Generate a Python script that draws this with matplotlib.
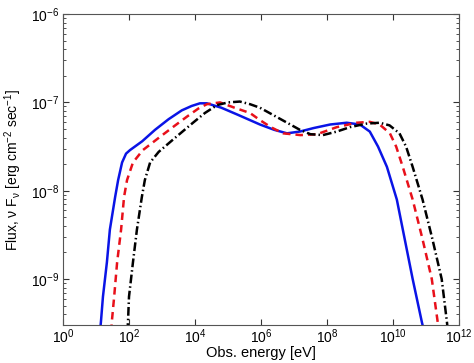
import numpy as np
import matplotlib
matplotlib.use('Agg')
import matplotlib.pyplot as plt
from matplotlib.ticker import LogLocator, NullLocator, LogFormatterSciNotation

plt.rcParams['font.family'] = ['Liberation Sans', 'DejaVu Sans']
plt.rcParams['mathtext.fontset'] = 'custom'
plt.rcParams['mathtext.rm'] = 'Liberation Sans'
plt.rcParams['mathtext.it'] = 'Liberation Sans'

# log10 of energy [eV] and log10 of flux
blue_logE = [1.12, 1.15, 1.21, 1.33, 1.42, 1.58, 1.67, 1.79, 1.91, 2.03, 2.4, 2.79, 3.2, 3.6, 3.9,
             4.15, 4.36, 4.8, 5.3, 5.97, 6.4, 6.79, 7.18, 7.6, 8.1, 8.6, 9.0, 9.3, 9.55, 9.82,
             10.12, 10.36, 10.6, 10.88, 10.95]
blue_logF = [-9.6, -9.48, -9.2, -8.81, -8.44, -8.07, -7.88, -7.68, -7.58, -7.54, -7.44, -7.31, -7.19, -7.09, -7.04,
             -7.01, -7.01, -7.06, -7.14, -7.25, -7.31, -7.35, -7.33, -7.29, -7.25, -7.23, -7.25, -7.33, -7.50, -7.73,
             -8.10, -8.55, -9.0, -9.49, -9.6]

red_logE = [1.46, 1.48, 1.55, 1.64, 1.76, 1.85, 1.94, 2.12, 2.42, 2.94, 3.4, 3.76, 4.1, 4.36, 4.76,
            5.2, 5.67, 5.97, 6.3, 6.67, 7.2, 7.7, 8.3, 8.9, 9.3, 9.6, 9.91, 10.1, 10.3, 10.6,
            10.9, 11.18, 11.36, 11.4]
red_logF = [-9.6, -9.48, -9.2, -8.81, -8.44, -8.07, -7.88, -7.68, -7.54, -7.39, -7.26, -7.16, -7.07, -7.02, -7.00,
            -7.06, -7.12, -7.20, -7.28, -7.35, -7.37, -7.36, -7.28, -7.23, -7.22, -7.25, -7.35, -7.50, -7.73, -8.10,
            -8.55, -9.0, -9.49, -9.6]

black_logE = [1.95, 1.97, 2.0, 2.12, 2.24, 2.39, 2.48, 2.64, 2.9, 3.4, 3.94, 4.3, 4.67, 5.0, 5.36,
              5.67, 5.97, 6.6, 7.18, 7.5, 7.88, 8.3, 8.7, 9.2, 9.6, 9.9, 10.2, 10.4, 10.6, 10.9,
              11.2, 11.48, 11.64, 11.67]
black_logF = [-9.6, -9.48, -9.2, -8.81, -8.44, -8.07, -7.88, -7.68, -7.56, -7.40, -7.23, -7.12, -7.03, -7.0, -6.99,
              -7.02, -7.06, -7.19, -7.31, -7.36, -7.37, -7.33, -7.28, -7.24, -7.23, -7.26, -7.35, -7.50, -7.73, -8.10,
              -8.55, -9.0, -9.49, -9.6]

xtick_exps = [0, 2, 4, 6, 8, 10, 12]
ytick_exps = [-9, -8, -7, -6]

fig = plt.figure(figsize=(4.74, 3.63), dpi=100)
ax = fig.add_axes([0.133, 0.105, 0.835, 0.856])

ax.plot(10.0 ** np.array(blue_logE), 10.0 ** np.array(blue_logF), color='#0a14e6', lw=1.8, ls='-')
ax.plot(10.0 ** np.array(red_logE), 10.0 ** np.array(red_logF), color='#e8101a', lw=1.8, ls=(0, (3, 2)))
ax.plot(10.0 ** np.array(black_logE), 10.0 ** np.array(black_logF), color='black', lw=1.8,
        ls=(0, (3.5, 1.2, 0.6, 1.2)))

ax.set_xscale('log')
ax.set_yscale('log')
ax.set_xlim(1, 1e12)
ax.set_ylim(10 ** -9.52, 1e-6)

ax.set_xticks([10.0 ** e for e in xtick_exps])
ax.xaxis.set_minor_locator(NullLocator())
ax.set_yticks([10.0 ** e for e in ytick_exps])
ax.yaxis.set_minor_locator(LogLocator(base=10, subs=np.arange(2, 10)))
ax.xaxis.set_major_formatter(LogFormatterSciNotation())
ax.yaxis.set_major_formatter(LogFormatterSciNotation())

ax.tick_params(which='both', direction='in', top=True, right=True, labelsize=10, colors='#333333',
               labelcolor='black')
ax.tick_params(axis='x', pad=2)
ax.tick_params(axis='y', pad=3)
ax.tick_params(which='major', length=4)
ax.tick_params(which='minor', length=2)
for s in ax.spines.values():
    s.set_color('#555555')
    s.set_linewidth(0.8)

ax.set_xlabel('Obs. energy [eV]', fontsize=10.5, labelpad=0)
ax.set_ylabel(r'Flux, ν F$_{\mathrm{ν}}$ [erg cm$^{-2}$ sec$^{-1}$]', fontsize=10, labelpad=5)

fig.savefig('out.png', dpi=100)
